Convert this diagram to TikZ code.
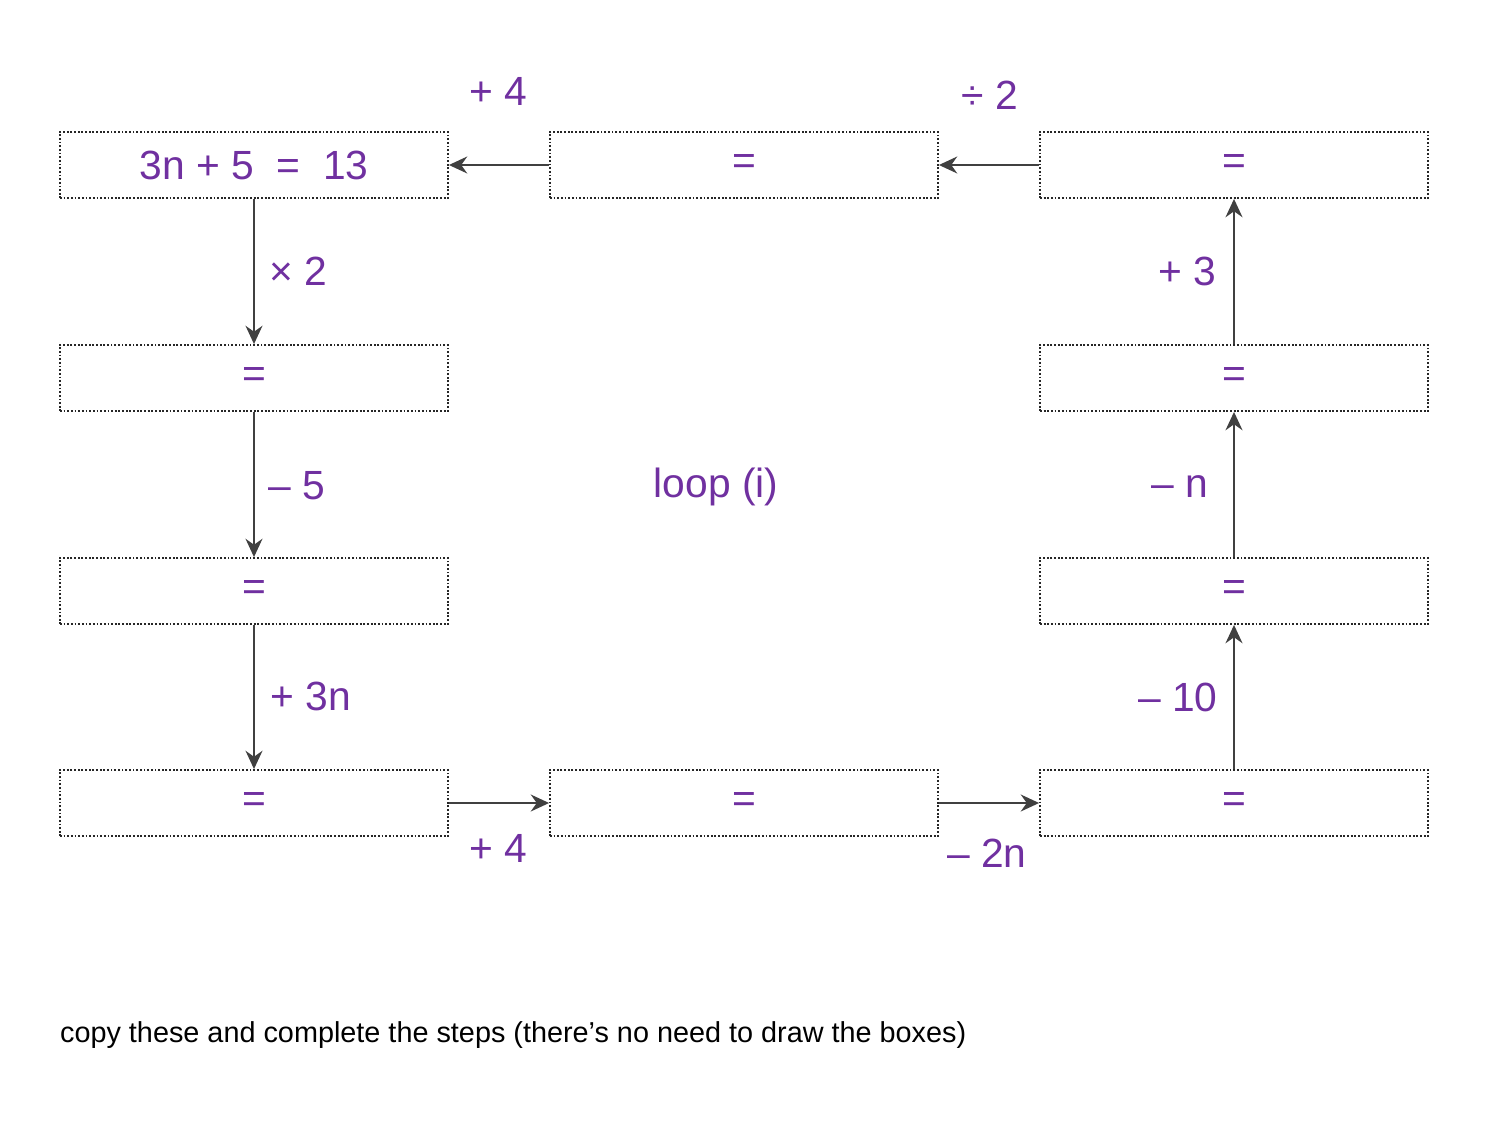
\documentclass[tikz,border=0pt]{standalone}
\usepackage{fontspec}
\setmainfont{Liberation Sans}
\usetikzlibrary{arrows.meta}
\definecolor{pur}{HTML}{7030A0}
\definecolor{ar}{HTML}{404040}
\begin{document}
\begin{tikzpicture}[x=0.05cm,y=-0.05cm,
  bx/.style={draw=black!85,dash pattern=on 2.6pt off 2.6pt,line width=2.6pt,minimum width=19.4cm,minimum height=3.3cm,inner sep=0pt,text=pur,font=\fontsize{58}{68}\selectfont},
  arr/.style={draw=ar,line width=3.4pt,-{Stealth[length=26pt,width=24pt]}},
  lb/.style={text=pur,font=\fontsize{58}{68}\selectfont}]
\useasboundingbox (0,0) rectangle (1500,1125);
\node[bx] (a1) at (254,165) {3n + 5 \ = \ 13};
\node[bx] (a2) at (744,165) {=};
\node[bx] (a3) at (1234,165) {=};
\node[bx] (b1) at (254,378) {=};
\node[bx] (b3) at (1234,378) {=};
\node[bx] (c1) at (254,591) {=};
\node[bx] (c3) at (1234,591) {=};
\node[bx] (d1) at (254,803) {=};
\node[bx] (d2) at (744,803) {=};
\node[bx] (d3) at (1234,803) {=};
\draw[arr] (a2) -- (a1);
\draw[arr] (a3) -- (a2);
\draw[arr] (a1) -- (b1);
\draw[arr] (b1) -- (c1);
\draw[arr] (c1) -- (d1);
\draw[arr] (d1) -- (d2);
\draw[arr] (d2) -- (d3);
\draw[arr] (d3) -- (c3);
\draw[arr] (c3) -- (b3);
\draw[arr] (b3) -- (a3);
\node[lb] (l1) at (498,91) {+ 4};
\node[lb] (l2) at (990,95) {÷ 2};
\node[lb] (l3) at (298,271) {× 2};
\node[lb] (l4) at (297,486) {– 5};
\node[lb] (l5) at (311,696) {+ 3n};
\node[lb] (l6) at (498,848) {+ 4};
\node[lb] (l7) at (987,853) {– 2n};
\node[lb] (l8) at (1178,697) {– 10};
\node[lb] (l9) at (1180,487) {– n};
\node[lb] (l10) at (1187,271) {+ 3};
\node[lb] (lp) at (716,487) {loop (i)};
\node[anchor=west,inner sep=0pt,font=\fontsize{41}{48}\selectfont] (cap) at (60,1035) {copy these and complete the steps (there’s no need to draw the boxes)};
\end{tikzpicture}
\end{document}
